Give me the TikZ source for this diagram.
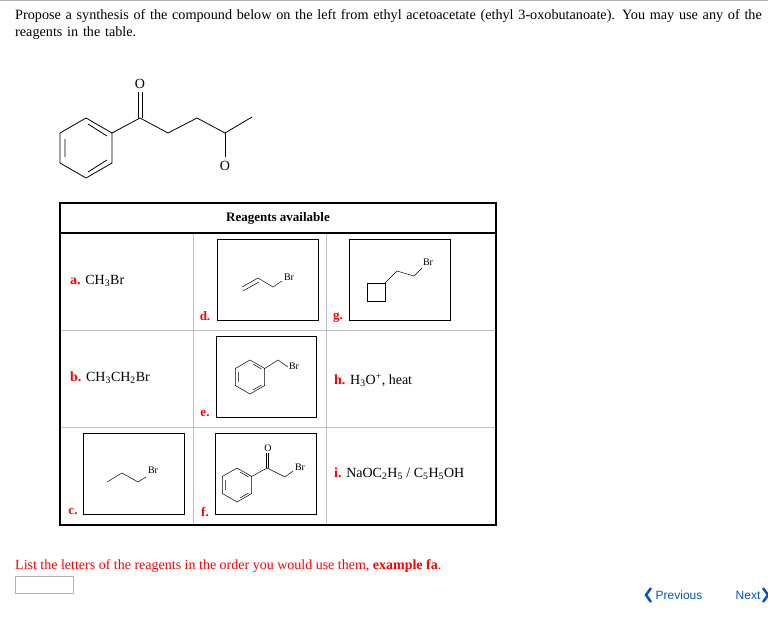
\documentclass[tikz,border=0pt]{standalone}
\usepackage{fontspec}
\setmainfont{Liberation Serif}
\newfontfamily\navfont{Liberation Sans}
\begin{document}
\begin{tikzpicture}[x=1pt,y=-1pt,
  bond/.style={line width=0.8pt},
  thinb/.style={line width=0.5pt},
  lbl/.style={text=red,font=\fontsize{13}{14}\selectfont\bfseries,inner sep=0pt},
  txt/.style={font=\fontsize{14}{16}\selectfont,inner sep=0pt,anchor=west},
  atom/.style={font=\fontsize{10}{11}\selectfont,inner sep=0.5pt},
  rbox/.style={draw,line width=0.8pt},
  grid/.style={draw=black!25,line width=0.8pt},
  nav/.style={text=blue!60!cyan!80!black,font=\navfont\fontsize{12}{13}\selectfont,inner sep=0pt}]
\useasboundingbox (0,0) rectangle (768,618);
\draw[black!30,line width=1.5pt] (0,0.5) -- (768,0.5);
\node[txt,anchor=north west,text width=750pt,align=left,font=\fontsize{14.2}{17}\selectfont] (title) at (15,9)
 {Propose a synthesis of the compound below on the left from ethyl acetoacetate (ethyl 3-oxobutanoate). You may use any of the reagents in the table.};
% target molecule
\begin{scope}[bond]
\draw (86,118) -- (112,133) -- (112,163) -- (86,178) -- (60,163) -- (60,133) -- cycle;
\draw (88,124) -- (107,136) (107,160) -- (88,172) (65,157) -- (65,139);
\draw (112,133) -- (140,118) -- (168,133) -- (197,118) -- (225,133) -- (252,117);
\draw (138,118) -- (138,92) (142,118) -- (142,92);
\draw (225,133) -- (225,157);
\end{scope}
\node[font=\fontsize{14}{15}\selectfont,inner sep=0pt] (o1) at (140,84) {O};
\node[font=\fontsize{14}{15}\selectfont,inner sep=0pt] (o2) at (225,166) {O};
% table
\draw[grid] (193,233) -- (193,525) (326,233) -- (326,525) (60,330) -- (496,330) (60,427) -- (496,427);
\draw[line width=1.5pt] (60,203) rectangle (496,525);
\draw[line width=1.5pt] (60,233) -- (496,233);
\node[font=\fontsize{13}{14}\selectfont\bfseries] (hdr) at (278,218) {Reagents available};
\node[txt] (a) at (70,281) {\textcolor{red}{\bfseries a.} CH\textsubscript{3}Br};
\node[txt] (b) at (70,378) {\textcolor{red}{\bfseries b.} CH\textsubscript{3}CH\textsubscript{2}Br};
\node[txt] (h) at (334,380) {\textcolor{red}{\bfseries h.} H\textsubscript{3}O\textsuperscript{+}, heat};
\node[txt] (i) at (334,474) {\textcolor{red}{\bfseries i.} NaOC\textsubscript{2}H\textsubscript{5} / C\textsubscript{5}H\textsubscript{5}OH};
% boxes
\draw[rbox] (217,239) rectangle (318,320); \node[lbl] (dl) at (205,316) {d.};
\draw[rbox] (349,239) rectangle (450,320); \node[lbl] (gl) at (338,318) {g.};
\draw[rbox] (216,336) rectangle (316,417); \node[lbl] (el) at (205,414) {e.};
\draw[rbox] (83,433) rectangle (184,514); \node[lbl] (cl) at (73,512) {c.};
\draw[rbox] (215,433) rectangle (316,514); \node[lbl] (fl) at (205,512) {f.};
% d allyl bromide
\draw[thinb] (242,287) -- (258,278) -- (273,287) -- (282,281);
\draw[thinb] (243,291) -- (259,282);
\node[atom] at (289,277) {Br};
% g
\draw[thinb] (367,283) rectangle (385,301);
\draw[thinb] (385,283) -- (397,271) -- (414,276) -- (422,268);
\node[atom] at (428,262) {Br};
% e benzyl bromide
\begin{scope}[shift={(250,377)},thinb]
\draw (0,-17) -- (14.7,-8.5) -- (14.7,8.5) -- (0,17) -- (-14.7,8.5) -- (-14.7,-8.5) -- cycle;
\draw (3,-13) -- (11.5,-8) (11.5,8) -- (3,13) (-11.5,5) -- (-11.5,-5);
\draw (14.7,-8.5) -- (28,-17) -- (38,-10);
\end{scope}
\node[atom] at (294,366) {Br};
% c propyl bromide
\draw[thinb] (107,482) -- (122,473) -- (138,482) -- (146,477);
\node[atom] at (153,470) {Br};
% f phenacyl bromide
\begin{scope}[shift={(237,485)},thinb]
\draw (0,-17) -- (14.7,-8.5) -- (14.7,8.5) -- (0,17) -- (-14.7,8.5) -- (-14.7,-8.5) -- cycle;
\draw (3,-13) -- (11.5,-8) (11.5,8) -- (3,13) (-11.5,5) -- (-11.5,-5);
\draw (14.7,-8.5) -- (30,-17) -- (48,-8) -- (56,-14);
\draw (29,-17) -- (29,-32) (31,-17) -- (31,-32);
\end{scope}
\node[atom] at (268,448) {O};
\node[atom] at (300,467) {Br};
% bottom
\node[txt,text=red] (q) at (15,566) {List the letters of the reagents in the order you would use them, \textbf{example fa}.};
\draw[black!30] (15,576) rectangle (73,593);
\node[nav] (prev) at (679,595) {Previous};
\node[nav] (next) at (748,595) {Next};
\draw[blue!60!cyan!80!black,line width=2.5pt] (651,588) -- (646,595) -- (651,602);
\draw[blue!60!cyan!80!black,line width=2.5pt] (763,588) -- (768,595) -- (763,602);
\end{tikzpicture}
\end{document}
